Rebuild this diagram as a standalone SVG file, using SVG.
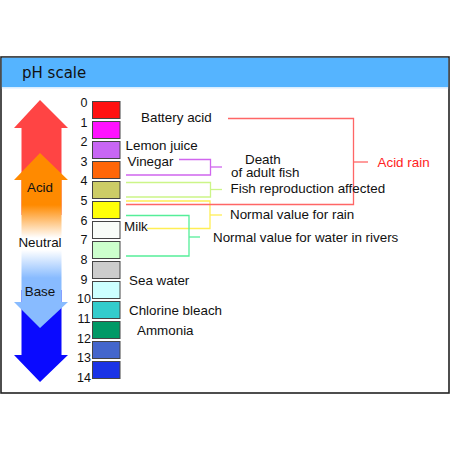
<svg xmlns="http://www.w3.org/2000/svg" width="450" height="450" viewBox="0 0 450 450">
<defs>
<style>
.t{font-family:"Liberation Sans",Arial,sans-serif;font-size:13.4px;fill:#111}
.n{font-family:"Liberation Sans",Arial,sans-serif;font-size:12.5px;fill:#111;text-anchor:middle}
.sw{stroke:#444;stroke-width:1}
.c{fill:none;stroke-width:1.3}
</style>
<linearGradient id="gOr" gradientUnits="userSpaceOnUse" x1="0" y1="205" x2="0" y2="238">
<stop offset="0" stop-color="#ff8a00"/>
<stop offset="1" stop-color="#ffffff"/>
</linearGradient>
<linearGradient id="gLb" gradientUnits="userSpaceOnUse" x1="0" y1="250" x2="0" y2="278">
<stop offset="0" stop-color="#ffffff"/>
<stop offset="1" stop-color="#88bbff"/>
</linearGradient>
</defs>
<rect width="450" height="450" fill="#fff"/>
<g id="frame">
<rect x="1" y="57" width="448" height="336" fill="#fff" stroke="#222" stroke-width="1.6"/>
<rect x="1.8" y="57.8" width="446.4" height="29.4" fill="#55b4ff"/>
<line x1="1.8" y1="88" x2="448.2" y2="88" stroke="#d8ecff" stroke-width="1.2"/>
<text x="22" y="78" style="font-family:'DejaVu Sans',sans-serif;font-size:15px;fill:#111">pH scale</text>
</g>
<g id="arrows">
<polygon points="40,100 68,128 61.5,128 61.5,215 21.5,215 21.5,128 14,128" fill="#ff4444"/>
<polygon points="40,153 68,180 61.5,180 61.5,238 21.5,238 21.5,180 14,180" fill="url(#gOr)"/>
<polygon points="21.5,290 61.5,290 61.5,355 68,355 40,382 14,355 21.5,355" fill="#0a0aff"/>
<polygon points="21.5,250 61.5,250 61.5,302 68,302 40,328 14,302 21.5,302" fill="url(#gLb)"/>
<text class="t" x="40" y="192" text-anchor="middle">Acid</text>
<text class="t" x="40" y="247" text-anchor="middle">Neutral</text>
<text class="t" x="40" y="296" text-anchor="middle">Base</text>
</g>
<g id="scale">
<rect class="sw" x="92.5" y="101.5" width="27.5" height="17" fill="#ff1010"/>
<rect class="sw" x="92.5" y="121.5" width="27.5" height="17" fill="#ff10ff"/>
<rect class="sw" x="92.5" y="141.5" width="27.5" height="17" fill="#c866f4"/>
<rect class="sw" x="92.5" y="161.5" width="27.5" height="17" fill="#ff6608"/>
<rect class="sw" x="92.5" y="181.5" width="27.5" height="17" fill="#cccc66"/>
<rect class="sw" x="92.5" y="201.5" width="27.5" height="17" fill="#ffff08"/>
<rect class="sw" x="92.5" y="221.5" width="27.5" height="17" fill="#f8fcf8"/>
<rect class="sw" x="92.5" y="241.5" width="27.5" height="17" fill="#ccffcc"/>
<rect class="sw" x="92.5" y="261.5" width="27.5" height="17" fill="#cccccc"/>
<rect class="sw" x="92.5" y="281.5" width="27.5" height="17" fill="#ccffff"/>
<rect class="sw" x="92.5" y="301.5" width="27.5" height="17" fill="#33cccc"/>
<rect class="sw" x="92.5" y="321.5" width="27.5" height="17" fill="#009966"/>
<rect class="sw" x="92.5" y="341.5" width="27.5" height="17" fill="#4466cc"/>
<rect class="sw" x="92.5" y="361.5" width="27.5" height="17" fill="#1a33e6"/>
<text class="n" x="84" y="106.8">0</text>
<text class="n" x="84" y="126.5">1</text>
<text class="n" x="84" y="146.1">2</text>
<text class="n" x="84" y="165.8">3</text>
<text class="n" x="84" y="185.4">4</text>
<text class="n" x="84" y="205.1">5</text>
<text class="n" x="84" y="224.7">6</text>
<text class="n" x="84" y="244.4">7</text>
<text class="n" x="84" y="264">8</text>
<text class="n" x="84" y="283.7">9</text>
<text class="n" x="84" y="303.3">10</text>
<text class="n" x="84" y="323">11</text>
<text class="n" x="84" y="342.6">12</text>
<text class="n" x="84" y="362.3">13</text>
<text class="n" x="84" y="381.9">14</text>
</g>
<g id="connectors">
<polyline class="c" stroke="#d066ee" points="179,159.5 210.5,159.5 210.5,175 126,175"/>
<line class="c" stroke="#d066ee" x1="210.5" y1="167" x2="222" y2="167"/>
<polyline class="c" stroke="#ccf588" points="126,182.5 210.5,182.5 210.5,197 126,197"/>
<line class="c" stroke="#ccf588" x1="210.5" y1="189.5" x2="222" y2="189.5"/>
<polyline class="c" stroke="#ffee55" points="126,201 210,201 210,228.5 147,228.5"/>
<line class="c" stroke="#ffee55" x1="210" y1="215" x2="222" y2="215"/>
<polyline class="c" stroke="#ff6666" points="228,118.5 353.5,118.5 353.5,204.5 126,204.5"/>
<line class="c" stroke="#ff6666" x1="353.5" y1="162" x2="368" y2="162"/>
<polyline class="c" stroke="#55ee99" points="126,215.5 189,215.5 189,256 126,256"/>
<line class="c" stroke="#55ee99" x1="189" y1="237" x2="200" y2="237"/>
</g>
<g id="labels">
<text class="t" x="141" y="122">Battery acid</text>
<text class="t" x="125.5" y="149.5">Lemon juice</text>
<text class="t" x="127.5" y="166">Vinegar</text>
<text class="t" x="124" y="231">Milk</text>
<text class="t" x="129" y="285">Sea water</text>
<text class="t" x="129" y="315">Chlorine bleach</text>
<text class="t" x="137" y="335">Ammonia</text>
<text class="t" x="245" y="163.5">Death</text>
<text class="t" x="231" y="177">of adult fish</text>
<text class="t" x="230.5" y="193">Fish reproduction affected</text>
<text class="t" x="230" y="218.5">Normal value for rain</text>
<text class="t" x="213" y="242">Normal value for water in rivers</text>
<text class="t" x="377.5" y="167" style="fill:#ff2222">Acid rain</text>
</g>
</svg>
